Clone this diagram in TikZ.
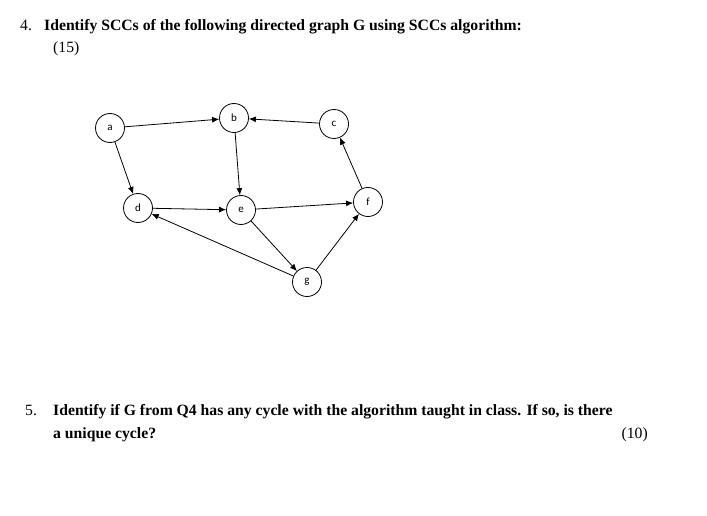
\documentclass[tikz,border=0pt]{standalone}
\usepackage{fontspec}
\setmainfont{Liberation Serif}
\newfontfamily\nodefont{Carlito}
\usetikzlibrary{arrows.meta}
\begin{document}
\begin{tikzpicture}[x=1pt,y=-1pt,
  vtx/.style={circle,draw,line width=0.8pt,minimum size=29pt,inner sep=0pt,font=\nodefont\fontsize{11}{13}\selectfont},
  edge/.style={-{Latex[length=7pt,width=6pt]},line width=0.8pt},
  txt/.style={anchor=base west,inner sep=0pt,font=\fontsize{15.7}{18}\selectfont}]
\useasboundingbox (0,0) rectangle (707,516);
\node[txt] (q4n) at (20,31) {4.};
\node[txt] (q4) at (44,31) {\bfseries Identify SCCs of the following directed graph G using SCCs algorithm:};
\node[txt] (q4p) at (53,53) {(15)};
\node[vtx] (a) at (110,128) {a};
\node[vtx] (b) at (234,118) {b};
\node[vtx] (c) at (334,124) {c};
\node[vtx] (d) at (138,208) {d};
\node[vtx] (e) at (241,210) {e};
\node[vtx] (f) at (368,202) {f};
\node[vtx] (g) at (307,282) {g};
\draw[edge] (a) -- (b);
\draw[edge] (c) -- (b);
\draw[edge] (a) -- (d);
\draw[edge] (b) -- (e);
\draw[edge] (d) -- (e);
\draw[edge] (e) -- (f);
\draw[edge] (e) -- (g);
\draw[edge] (g) -- (d);
\draw[edge] (g) -- (f);
\draw[edge] (f) -- (c);
\node[txt] (q5n) at (25,415) {5.};
\node[txt] (q5) at (53,415) {\bfseries Identify if G from Q4 has any cycle with the algorithm taught in class. If so, is there};
\node[txt] (q5b) at (53,438) {\bfseries a unique cycle?};
\node[txt,anchor=base east] (q5p) at (648,438) {(10)};
\end{tikzpicture}
\end{document}
